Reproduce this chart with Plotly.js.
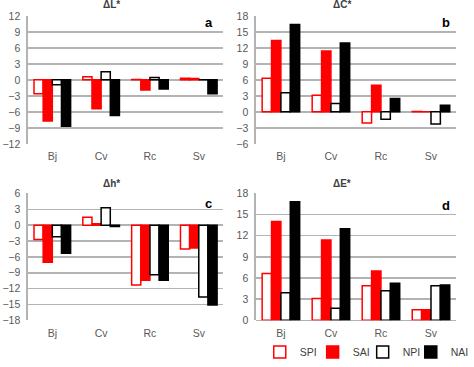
<!DOCTYPE html>
<html><head><meta charset="utf-8">
<script src="https://cdn.plot.ly/plotly-3.0.1.min.js"></script>
<style>html,body{margin:0;padding:0;background:#fff}</style>
</head><body><div id="chart" style="width:474px;height:367px"></div>
<script>
const categories = ["Bj", "Cv", "Rc", "Sv"];
const seriesNames = ["SPI", "SAI", "NPI", "NAI"];
// Panel a: ΔL*
const dL_SPI = [-2.6, 0.6, 0.05, 0.3];
const dL_SAI = [-7.7, -5.4, -1.9, 0.25];
const dL_NPI = [-0.9, 1.5, 0.45, 0];
const dL_NAI = [-8.7, -6.7, -1.7, -2.6];
// Panel b: ΔC*
const dC_SPI = [6.3, 3.1, -2.1, 0.05];
const dC_SAI = [13.4, 11.4, 5.0, 0];
const dC_NPI = [3.6, 1.55, -1.4, -2.3];
const dC_NAI = [16.4, 12.9, 2.5, 1.25];
// Panel c: Δh*
const dh_SPI = [-2.7, 1.5, -11.3, -4.5];
const dh_SAI = [-7.0, 0.25, -10.4, -4.3];
const dh_NPI = [-2.2, 3.3, -9.4, -13.6];
const dh_NAI = [-5.3, -0.25, -10.4, -15.1];
// Panel d: ΔE*
const dE_SPI = [6.65, 3.1, 4.9, 1.5];
const dE_SAI = [14.0, 11.4, 7.0, 1.5];
const dE_NPI = [3.9, 1.7, 4.2, 4.9];
const dE_NAI = [16.8, 13.0, 5.25, 5.0];
const panelTitles = ["ΔL*", "ΔC*", "Δh*", "ΔE*"];
const panelLetters = ["a", "b", "c", "d"];

const panels = [
  [dL_SPI, dL_SAI, dL_NPI, dL_NAI],
  [dC_SPI, dC_SAI, dC_NPI, dC_NAI],
  [dh_SPI, dh_SAI, dh_NPI, dh_NAI],
  [dE_SPI, dE_SAI, dE_NPI, dE_NAI]
];
const styles = [
  {fill: "#ffffff", line: "#ff0000"},
  {fill: "#ff0000", line: "#ff0000"},
  {fill: "#ffffff", line: "#000000"},
  {fill: "#000000", line: "#000000"}
];
const legendIds = ["legend", "legend2", "legend3", "legend4"];
const traces = [];
panels.forEach((p, pi) => {
  p.forEach((vals, si) => {
    traces.push({
      type: "bar", x: categories, y: vals, name: seriesNames[si],
      xaxis: pi === 0 ? "x" : "x" + (pi + 1),
      yaxis: pi === 0 ? "y" : "y" + (pi + 1),
      marker: {color: styles[si].fill, line: {color: styles[si].line, width: 1.5}},
      showlegend: pi === 3, legend: legendIds[si], legendgroup: seriesNames[si], hoverinfo: "skip"
    });
  });
});
const H = 367, W = 474;
const xL = [29 / W, 232 / W], xR = [266 / W, 1.0];
const yT = [1 - 145 / H, 1 - 16 / H], yB = [1 - 323 / H, 1 - 195 / H];
const ranges = [[-12, 12], [-6, 18], [-18, 6], [0, 18]];
const gridc = "#b3b3b3";
const tickFont = {family: "Liberation Sans, Arial, sans-serif", size: 10.5, color: "#595959"};
function xa(dom, anchor) {
  return {domain: dom, anchor: anchor, showgrid: false, zeroline: false, showline: false,
    ticks: "", tickfont: tickFont, ticklabelstandoff: 5, fixedrange: true};
}
function ya(dom, anchor, r) {
  return {domain: dom, anchor: anchor, range: r, dtick: 3, tick0: 0, showgrid: true, gridcolor: gridc, gridwidth: 1.5,
    zeroline: true, zerolinecolor: gridc, zerolinewidth: 1.5, showline: true, linecolor: gridc, linewidth: 1.5,
    ticks: "", tickfont: tickFont, ticklabelstandoff: 4, fixedrange: true};
}
const ann = [];
const titlePos = [[116, 5], [355, 5], [116, 185], [355, 185]];
const letterPos = [[217, 23], [464, 23], [217, 205], [464, 207]];
for (let i = 0; i < 4; i++) {
  ann.push({xref: "paper", yref: "paper", x: titlePos[i][0] / W, y: 1 - titlePos[i][1] / H,
    text: "<b>" + panelTitles[i] + "</b>", showarrow: false, xanchor: "center", yanchor: "middle",
    font: {family: "Liberation Sans, Arial, sans-serif", size: 10, color: "#404040"}});
  ann.push({xref: "paper", yref: "paper", x: letterPos[i][0] / W, y: 1 - letterPos[i][1] / H,
    text: "<b>" + panelLetters[i] + "</b>", showarrow: false, xanchor: "center", yanchor: "middle",
    font: {family: "Liberation Sans, Arial, sans-serif", size: 13, color: "#000000"}});
}
const layout = {
  width: W, height: H, margin: {l: 0, r: 0, t: 0, b: 0},
  paper_bgcolor: "#ffffff", plot_bgcolor: "#ffffff",
  barmode: "group", bargap: 0.25, bargroupgap: 0,
  xaxis: xa(xL, "y"), yaxis: ya(yT, "x", ranges[0]),
  xaxis2: xa(xR, "y2"), yaxis2: ya(yT, "x2", ranges[1]),
  xaxis3: xa(xL, "y3"), yaxis3: ya(yB, "x3", ranges[2]),
  xaxis4: xa(xR, "y4"), yaxis4: ya(yB, "x4", ranges[3]),
  showlegend: true,
  annotations: ann
};
const legendX = [270, 325, 377, 427];
legendIds.forEach((id, i) => {
  layout[id] = {orientation: "h", x: legendX[i] / W, y: 1 - 355 / H, xanchor: "left", yanchor: "middle",
    font: {family: "Liberation Sans, Arial, sans-serif", size: 10.5, color: "#404040"},
    bgcolor: "rgba(0,0,0,0)"};
});
Plotly.newPlot("chart", traces, layout, {staticPlot: true, displayModeBar: false});
</script></body></html>
